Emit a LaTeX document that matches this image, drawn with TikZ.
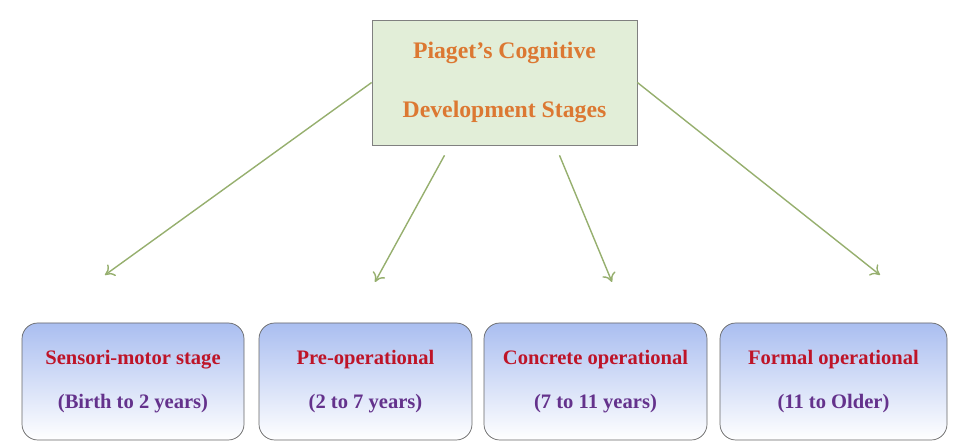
\documentclass[tikz,border=0pt]{standalone}
\usepackage{fontspec}
\setmainfont{Liberation Serif}
\usetikzlibrary{arrows.meta}
\definecolor{stageorange}{RGB}{220,120,50}
\definecolor{stagered}{RGB}{190,20,40}
\definecolor{stagepurple}{RGB}{100,50,140}
\definecolor{arrowgreen}{RGB}{150,175,110}
\definecolor{boxblue}{RGB}{170,190,240}
\definecolor{titlegreen}{RGB}{226,238,216}
\begin{document}
\begin{tikzpicture}[
  stagebox/.style={draw=gray!80!black,rounded corners=9pt,minimum height=2.34cm,
    top color=boxblue,bottom color=white,align=center,font=\bfseries\fontsize{11.7}{25}\selectfont},
  link/.style={draw=arrowgreen,thick,-{To[length=5pt,width=8pt]}}]
\useasboundingbox (0,0) rectangle (19.06,8.96);

% title node
\node[draw=gray,fill=titlegreen,minimum width=5.3cm,minimum height=2.5cm,
  align=center,font=\bfseries\fontsize{13.5}{34}\selectfont,text=stageorange] (top) at (10.09,7.31)
  {Piaget's Cognitive\\Development Stages};

% stage nodes
\node[stagebox,minimum width=4.44cm] (s1) at (2.66,1.33)
  {\textcolor{stagered}{Sensori-motor stage}\\\textcolor{stagepurple}{(Birth to 2 years)}};
\node[stagebox,minimum width=4.26cm] (s2) at (7.31,1.33)
  {\textcolor{stagered}{Pre-operational}\\\textcolor{stagepurple}{(2 to 7 years)}};
\node[stagebox,minimum width=4.46cm] (s3) at (11.91,1.33)
  {\textcolor{stagered}{Concrete operational}\\\textcolor{stagepurple}{(7 to 11 years)}};
\node[stagebox,minimum width=4.54cm] (s4) at (16.67,1.33)
  {\textcolor{stagered}{Formal operational}\\\textcolor{stagepurple}{(11 to Older)}};

% arrow ends
\coordinate (e1) at (2.1,3.46);
\coordinate (e2) at (7.5,3.32);
\coordinate (e3) at (12.24,3.32);
\coordinate (e4) at (17.6,3.46);

\draw[link] (top.west) -- (e1);
\draw[link] ([xshift=-1.2cm,yshift=-0.2cm]top.south) -- (e2);
\draw[link] ([xshift=1.1cm,yshift=-0.2cm]top.south) -- (e3);
\draw[link] (top.east) -- (e4);
\end{tikzpicture}
\end{document}
